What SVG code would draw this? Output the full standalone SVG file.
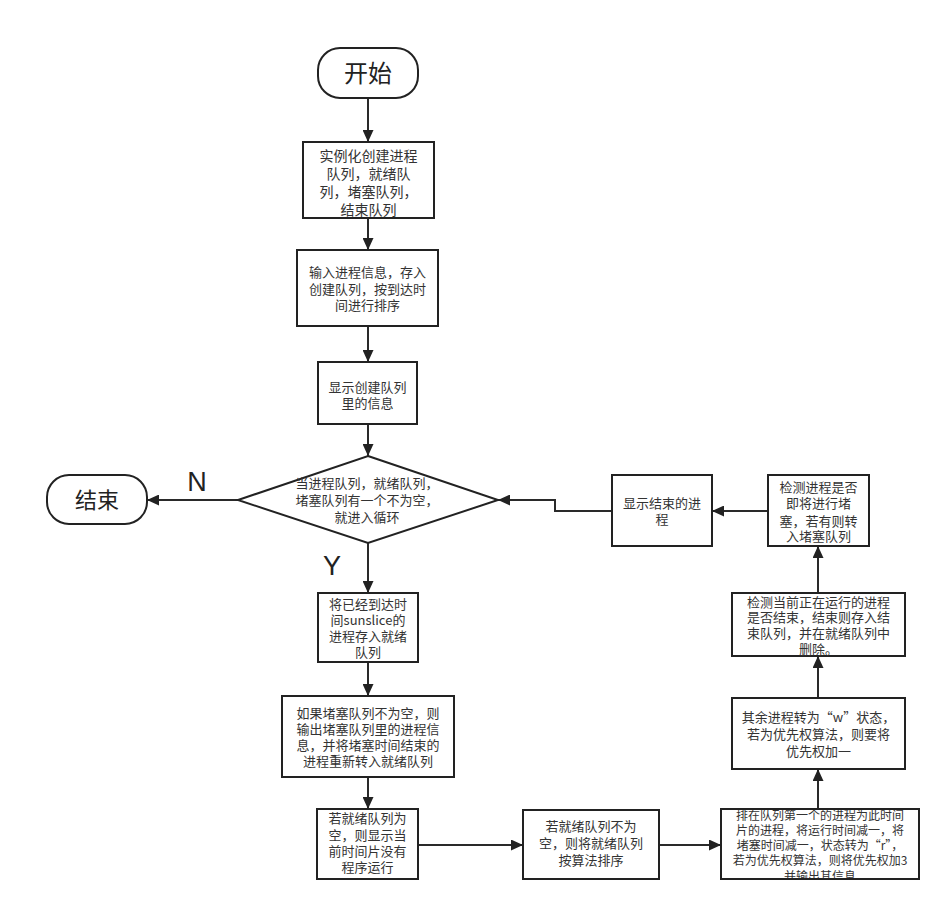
<svg xmlns="http://www.w3.org/2000/svg" width="949" height="911" viewBox="0 0 949 911">
<defs>
<style>
.box{fill:#fff;stroke:#222;stroke-width:2}
.nofill{fill:none;stroke:#222;stroke-width:2}
.t{font-family:"Noto Sans CJK SC","Liberation Sans",sans-serif;font-size:13px;fill:#333;text-anchor:middle}
.t14{font-size:14px}
.t12{font-size:12px}
.big{font-family:"Noto Sans CJK SC","Liberation Sans",sans-serif;fill:#222;text-anchor:middle}
.lbl{font-family:"Liberation Sans","Noto Sans",sans-serif;font-size:27px;fill:#222;text-anchor:middle}
.c{fill:none;stroke:#2a2a2a;stroke-width:2}
</style>
<marker id="ah" markerUnits="userSpaceOnUse" markerWidth="13" markerHeight="11" refX="12" refY="5.5" orient="auto">
<path d="M0,0 L12,5.5 L0,11 z" fill="#222"/>
</marker>
<clipPath id="clipLast"><rect x="722" y="810" width="196" height="68"/></clipPath>
</defs>
<rect width="949" height="911" fill="#fff"/>

<g id="connectors">
<path class="c" d="M368,98 L368,142" marker-end="url(#ah)"/>
<path class="c" d="M368,218 L368,250" marker-end="url(#ah)"/>
<path class="c" d="M368,326 L368,362" marker-end="url(#ah)"/>
<path class="c" d="M368,424 L368,456" marker-end="url(#ah)"/>
<path class="c" d="M368,543 L368,593" marker-end="url(#ah)"/>
<path class="c" d="M368,662 L368,696" marker-end="url(#ah)"/>
<path class="c" d="M368,777 L368,809" marker-end="url(#ah)"/>
<path class="c" d="M238,500 L147,500" marker-end="url(#ah)"/>
<path class="c" d="M418,845 L523,845" marker-end="url(#ah)"/>
<path class="c" d="M659,845 L721,845" marker-end="url(#ah)"/>
<path class="c" d="M818,809 L818,769" marker-end="url(#ah)"/>
<path class="c" d="M818,698 L818,656" marker-end="url(#ah)"/>
<path class="c" d="M818,593 L818,546" marker-end="url(#ah)"/>
<path class="c" d="M768,511 L712,511" marker-end="url(#ah)"/>
<path class="c" d="M612,511 L555,511 L555,500 L498,500" marker-end="url(#ah)"/>
<text class="lbl" x="197" y="491">N</text>
<text class="lbl" x="332" y="575">Y</text>
</g>

<g id="start">
<rect class="box" x="318" y="48" width="100" height="50" rx="22" ry="22"/>
<text class="big" x="368" y="82" font-size="24">开始</text>
</g>

<g id="init">
<rect class="box" x="303" y="142" width="131" height="76"/>
<text class="t t14" x="368.5" y="161">实例化创建进程</text>
<text class="t t14" x="368.5" y="179">队列，就绪队</text>
<text class="t t14" x="368.5" y="197">列，堵塞队列，</text>
<text class="t t14" x="368.5" y="215">结束队列</text>
</g>

<g id="input">
<rect class="box" x="297" y="250" width="141" height="76"/>
<text class="t" x="367.5" y="277">输入进程信息，存入</text>
<text class="t" x="367.5" y="294">创建队列，按到达时</text>
<text class="t" x="367.5" y="310">间进行排序</text>
</g>

<g id="showCreate">
<rect class="box" x="318" y="362" width="99" height="62"/>
<text class="t" x="367.5" y="392">显示创建队列</text>
<text class="t" x="367.5" y="408">里的信息</text>
</g>

<g id="decision">
<polygon class="box" points="368,456 498,500 368,543 238,500"/>
<text class="t" x="367" y="488">当进程队列，就绪队列，</text>
<text class="t" x="367" y="505">堵塞队列有一个不为空，</text>
<text class="t" x="367" y="522">就进入循环</text>
</g>

<g id="end">
<rect class="box" x="47" y="475" width="100" height="49" rx="22" ry="22"/>
<text class="big" x="97" y="508" font-size="22">结束</text>
</g>

<g id="arrive">
<rect class="box" x="318" y="593" width="100" height="69"/>
<text class="t" x="368" y="609">将已经到达时</text>
<text class="t" x="368" y="625">间sunslice的</text>
<text class="t" x="368" y="641">进程存入就绪</text>
<text class="t" x="368" y="657">队列</text>
</g>

<g id="blocked">
<rect class="box" x="282" y="696" width="172" height="81"/>
<text class="t" x="368" y="718">如果堵塞队列不为空，则</text>
<text class="t" x="368" y="734">输出堵塞队列里的进程信</text>
<text class="t" x="368" y="750">息，并将堵塞时间结束的</text>
<text class="t" x="368" y="766">进程重新转入就绪队列</text>
</g>

<g id="readyEmpty">
<rect class="box" x="317" y="809" width="101" height="70"/>
<text class="t" x="367.5" y="823">若就绪队列为</text>
<text class="t" x="367.5" y="840">空，则显示当</text>
<text class="t" x="367.5" y="856">前时间片没有</text>
<text class="t" x="367.5" y="872">程序运行</text>
</g>

<g id="readySort">
<rect class="box" x="523" y="810" width="136" height="69"/>
<text class="t" x="591" y="831">若就绪队列不为</text>
<text class="t" x="591" y="848">空，则将就绪队列</text>
<text class="t" x="591" y="865">按算法排序</text>
</g>

<g id="runFirst">
<rect x="721" y="809" width="198" height="70" fill="#fff"/>
<g clip-path="url(#clipLast)">
<text class="t t12" x="820" y="820">排在队列第一个的进程为此时间</text>
<text class="t t12" x="820" y="835">片的进程，将运行时间减一，将</text>
<text class="t t12" x="820" y="850">堵塞时间减一，状态转为“r”，</text>
<text class="t t12" x="820" y="865">若为优先权算法，则将优先权加3</text>
<text class="t t12" x="820" y="881">并输出其信息</text>
</g>
<rect class="nofill" x="721" y="809" width="198" height="70"/>
</g>

<g id="others">
<rect class="box" x="732" y="698" width="173" height="71"/>
<text class="t" x="818.5" y="722">其余进程转为“w”状态，</text>
<text class="t" x="818.5" y="739">若为优先权算法，则要将</text>
<text class="t" x="818.5" y="756">优先权加一</text>
</g>

<g id="checkFinish">
<rect class="box" x="732" y="593" width="173" height="63"/>
<text class="t" x="818.5" y="607">检测当前正在运行的进程</text>
<text class="t" x="818.5" y="622">是否结束，结束则存入结</text>
<text class="t" x="818.5" y="638">束队列，并在就绪队列中</text>
<text class="t" x="818.5" y="654">删除。</text>
</g>

<g id="checkBlock">
<rect class="box" x="768" y="475" width="101" height="71"/>
<text class="t" x="818.5" y="492">检测进程是否</text>
<text class="t" x="818.5" y="508">即将进行堵</text>
<text class="t" x="818.5" y="526">塞，若有则转</text>
<text class="t" x="818.5" y="541">入堵塞队列</text>
</g>

<g id="showFinished">
<rect class="box" x="612" y="475" width="100" height="71"/>
<text class="t" x="662" y="508">显示结束的进</text>
<text class="t" x="662" y="524">程</text>
</g>
</svg>
